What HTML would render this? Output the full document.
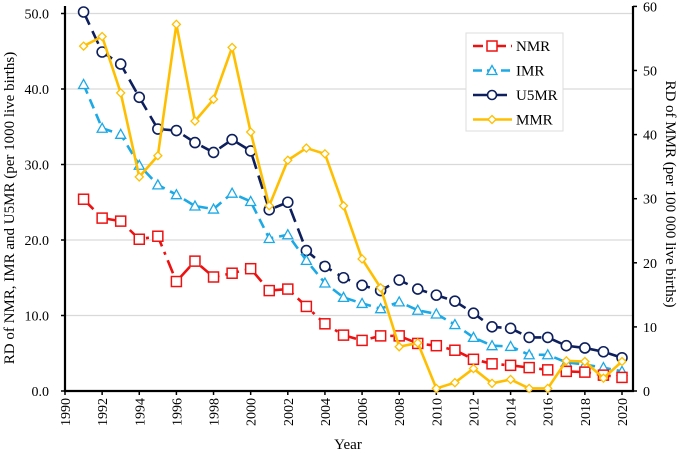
<!DOCTYPE html>
<html><head><meta charset="utf-8"><style>
html,body{margin:0;padding:0;background:#fff;}
svg{display:block;font-family:"Liberation Serif",serif;}
</style></head><body>
<svg id="chart" width="685" height="452"></svg>
<script>
const years=[1991,1992,1993,1994,1995,1996,1997,1998,1999,2000,2001,2002,2003,2004,2005,2006,2007,2008,2009,2010,2011,2012,2013,2014,2015,2016,2017,2018,2019,2020];
const nmr=[25.4,22.9,22.5,20.1,20.5,14.5,17.2,15.1,15.6,16.2,13.3,13.5,11.2,8.9,7.4,6.7,7.3,7.3,6.3,6.0,5.4,4.2,3.6,3.4,3.1,2.8,2.6,2.5,2.1,1.8];
const imr=[40.6,34.8,34.0,29.9,27.3,26.0,24.5,24.1,26.2,25.1,20.2,20.7,17.3,14.3,12.4,11.6,10.9,11.8,10.7,10.2,8.8,7.1,6.0,5.9,4.8,4.8,3.8,3.5,3.1,2.6];
const u5mr=[50.2,44.9,43.3,38.9,34.7,34.5,32.9,31.6,33.3,31.8,24.0,25.0,18.6,16.5,15.0,14.0,13.3,14.7,13.5,12.7,11.9,10.3,8.5,8.3,7.1,7.1,6.0,5.7,5.2,4.4];
const mmr=[53.8,55.3,46.5,33.4,36.7,57.2,42.1,45.5,53.6,40.4,28.9,36.0,37.9,37.0,28.9,20.6,16.1,6.9,7.5,0.4,1.3,3.5,1.2,1.8,0.4,0.4,4.7,4.6,2.0,4.6];
const leftTicks=[0,10,20,30,40,50];
const rightTicks=[0,10,20,30,40,50,60];
const xTicks=[1990,1992,1994,1996,1998,2000,2002,2004,2006,2008,2010,2012,2014,2016,2018,2020];

const NS="http://www.w3.org/2000/svg";
const svg=document.getElementById('chart');
const x=v=>65+(v-1990)*(557/30);
const yL=v=>391-v*7.55;
const yR=v=>391-v*6.41;
function mk(tag,attrs,parent){const e=document.createElementNS(NS,tag);for(const k in attrs)e.setAttribute(k,attrs[k]);(parent||svg).appendChild(e);return e;}

// gridlines
leftTicks.forEach(t=>{if(t>0){const g=mk('line',{x1:65,x2:633,y1:yL(t),y2:yL(t),stroke:'#d9d9d9','stroke-width':1.2});

}});
// axes
const ax1=mk('line',{x1:65,x2:65,y1:6,y2:391,stroke:'#000','stroke-width':2.2});


const ax2=mk('line',{x1:633,x2:633,y1:6,y2:391,stroke:'#000','stroke-width':2.2});


const ax3=mk('line',{x1:64,x2:634,y1:391,y2:391,stroke:'#000','stroke-width':2.2});



leftTicks.forEach(t=>{mk('line',{x1:61,x2:65,y1:yL(t),y2:yL(t),stroke:'#000','stroke-width':1.5});
const tx=mk('text',{x:49,y:yL(t)+5,'text-anchor':'end','font-size':14});tx.textContent=t.toFixed(1);

});
rightTicks.forEach(t=>{mk('line',{x1:633,x2:637,y1:yR(t),y2:yR(t),stroke:'#000','stroke-width':1.5});
const tx=mk('text',{x:643,y:yR(t)+5,'font-size':14});tx.textContent=t;

});
xTicks.forEach(t=>{mk('line',{x1:x(t),x2:x(t),y1:391,y2:395,stroke:'#000','stroke-width':1.5});
const tx=mk('text',{x:0,y:0,'text-anchor':'end','font-size':14,transform:`translate(${x(t)+5},${398}) rotate(-90)`});tx.textContent=t;

});

const xt=mk('text',{x:348,y:449,'text-anchor':'middle','font-size':15});xt.textContent='Year';


const yt=mk('text',{x:0,y:0,'text-anchor':'middle','font-size':15,transform:'translate(14,208) rotate(-90)'});yt.textContent='RD of NMR, IMR and U5MR (per 1000 live births)';


const yt2=mk('text',{x:0,y:0,'text-anchor':'middle','font-size':15,transform:'translate(666,194) rotate(90)'});yt2.textContent='RD of  MMR (per 100 000 live births)';



function series(vals,yf,color,dash,marker,name){
  const g=mk('g',{});
  
  
  const pts=vals.map((v,i)=>x(years[i])+','+yf(v)).join(' ');
  const pl=mk('polyline',{points:pts,fill:'none',stroke:color,'stroke-width':2.6,'stroke-dasharray':dash,'stroke-linejoin':'round'},g);
  
  
  vals.forEach((v,i)=>{const cx=x(years[i]),cy=yf(v);let m;
    if(marker==='sq')m=mk('rect',{x:cx-5,y:cy-5,width:10,height:10,fill:'#fff',stroke:color,'stroke-width':1.5},g);
    else if(marker==='tri')m=mk('polygon',{points:`${cx},${cy-5} ${cx-5},${cy+4} ${cx+5},${cy+4}`,fill:'#fff',stroke:color,'stroke-width':1.3},g);
    else if(marker==='circ')m=mk('circle',{cx:cx,cy:cy,r:5,fill:'#fff',stroke:color,'stroke-width':1.6},g);
    else m=mk('polygon',{points:`${cx},${cy-4} ${cx+4},${cy} ${cx},${cy+4} ${cx-4},${cy}`,fill:'#fff',stroke:color,'stroke-width':1.3},g);
    
    });
}
series(u5mr,yL,'#0d1f5c','14 7','circ','u5mr');
series(imr,yL,'#1ca9e6','10 6','tri','imr');
series(nmr,yL,'#ee1111','14 6 3 6','sq','nmr');
series(mmr,yR,'#ffbf00','none','dia','mmr');

// legend
const lg=mk('g',{});


mk('rect',{x:466,y:33,width:97,height:98,fill:'#fff',stroke:'#ddd'},lg);
const items=[['NMR','#ee1111','10 5 3 5','sq'],['IMR','#1ca9e6','9 5','tri'],['U5MR','#0d1f5c','14 6','circ'],['MMR','#ffbf00','none','dia']];
items.forEach((it,i)=>{const cy=46+i*24.5;const e=mk('g',{},lg);
  
  
  mk('line',{x1:473,x2:512,y1:cy,y2:cy,stroke:it[1],'stroke-width':2.6,'stroke-dasharray':it[2]},e);
  const cx=492;
  if(it[3]==='sq')mk('rect',{x:cx-5,y:cy-5,width:10,height:10,fill:'#fff',stroke:it[1],'stroke-width':1.5},e);
  else if(it[3]==='tri')mk('polygon',{points:`${cx},${cy-5} ${cx-5},${cy+4} ${cx+5},${cy+4}`,fill:'#fff',stroke:it[1],'stroke-width':1.3},e);
  else if(it[3]==='circ')mk('circle',{cx:cx,cy:cy,r:4.5,fill:'#fff',stroke:it[1],'stroke-width':1.6},e);
  else mk('polygon',{points:`${cx},${cy-4} ${cx+4},${cy} ${cx},${cy+4} ${cx-4},${cy}`,fill:'#fff',stroke:it[1],'stroke-width':1.3},e);
  const t=mk('text',{x:516,y:cy+5,'font-size':15},e);t.textContent=it[0];});
</script>
</body></html>
